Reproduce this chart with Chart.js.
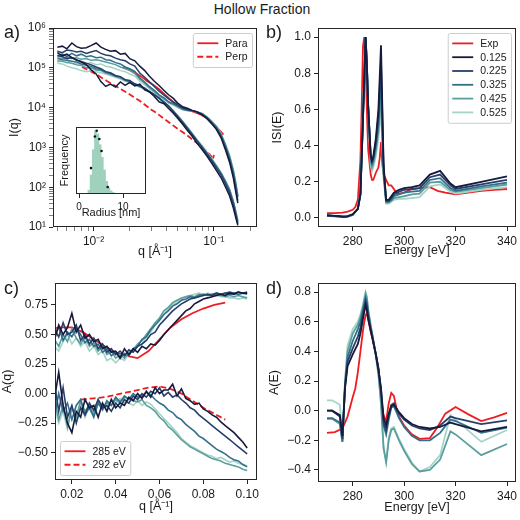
<!DOCTYPE html>
<html lang="en">
<head>
<meta charset="UTF-8">
<title>Hollow Fraction</title>
<script src="https://cdn.jsdelivr.net/npm/chart.js"></script>
<style>
  body { margin: 0; background: #fff; }
  #fig { position: relative; width: 520px; height: 520px; overflow: hidden;
         font-family: 'Liberation Sans', Arial, sans-serif; color: #1a1a1a; }
  #fig canvas { position: absolute; }
  .txt { position: absolute; line-height: 18px; white-space: nowrap; }
  .letter { font-size: 18px; }
</style>
</head>
<body>
<div id="fig">
  <canvas id="chartA" width="260" height="245" style="left:0;top:20px"></canvas>
  <canvas id="chartB" width="260" height="245" style="left:260px;top:20px"></canvas>
  <canvas id="chartC" width="264" height="245" style="left:-4px;top:275px"></canvas>
  <canvas id="chartD" width="260" height="245" style="left:260px;top:275px"></canvas>
  <canvas id="chartIn" width="93" height="100" style="left:57px;top:122px"></canvas>
  <div class="txt" style="left:4px;width:516px;top:0;text-align:center;font-size:14px">Hollow Fraction</div>
  <div class="txt letter" style="left:4px;top:23px">a)</div>
  <div class="txt letter" style="left:266px;top:23px">b)</div>
  <div class="txt letter" style="left:4px;top:279px">c)</div>
  <div class="txt letter" style="left:266px;top:279px">d)</div>
</div>
<script>
const FONT = "'Liberation Sans', Arial, sans-serif";

// ---- colours ----
const RED = '#ee1d23';
const fractions = ['0.125', '0.225', '0.325', '0.425', '0.525'];
const fracColors = ['#161a3c', '#283f6c', '#32708a', '#5a9e9e', '#a5d4c6'];

// ---- a) I(q) ----
const qa = [0.005, 0.0055, 0.006, 0.0066, 0.0072, 0.0079, 0.0087, 0.0095, 0.0105, 0.0115,
            0.0126, 0.0138, 0.0152, 0.0167, 0.0183, 0.02, 0.022, 0.0242, 0.0266, 0.029,
            0.032, 0.035, 0.0385, 0.042, 0.046, 0.05, 0.055, 0.06, 0.066, 0.072,
            0.08, 0.088, 0.096, 0.105, 0.115, 0.125, 0.135, 0.145, 0.152, 0.158];
const para0125 = [3.3e5, 3.5e5, 3.0e5, 4.2e5, 3.4e5, 3.1e5, 3.2e5, 3.6e5, 4.2e5, 3.3e5,
                  2.9e5, 2.6e5, 2.7e5, 2.2e5, 2.3e5, 1.7e5, 1.5e5, 1.1e5, 8.5e4, 6.2e4,
                  4.6e4, 3.6e4, 2.7e4, 2.1e4, 1.7e4, 1.3e4, 1.05e4, 9.6e3, 8.5e3, 7.8e3,
                  6.6e3, 5.2e3, 3.9e3, 2.8e3, 1.7e3, 850, 420, 170, 75, 40];
const para0225 = [2.6e5, 2.4e5, 2.8e5, 2.7e5, 2.5e5, 2.6e5, 2.3e5, 2.5e5, 2.7e5, 2.3e5,
                  2.1e5, 2.0e5, 1.75e5, 1.6e5, 1.5e5, 1.25e5, 1.1e5, 7.4e4, 5.8e4, 4.5e4,
                  3.4e4, 2.6e4, 2.05e4, 1.65e4, 1.4e4, 1.15e4, 9.8e3, 9.0e3, 8.4e3, 7.9e3,
                  6.8e3, 5.4e3, 4.1e3, 3.0e3, 1.85e3, 950, 480, 200, 90, 46];
const para0325 = [2.0e5, 2.2e5, 1.9e5, 2.3e5, 2.0e5, 2.2e5, 1.9e5, 2.0e5, 1.8e5, 1.85e5,
                  1.6e5, 1.55e5, 1.35e5, 1.25e5, 1.05e5, 9.5e4, 8.2e4, 5.6e4, 4.4e4, 3.4e4,
                  2.7e4, 2.1e4, 1.75e4, 1.4e4, 1.25e4, 1.1e4, 9.3e3, 8.6e3, 8.3e3, 7.8e3,
                  6.9e3, 5.6e3, 4.3e3, 3.2e3, 2.0e3, 1.07e3, 560, 240, 112, 56];
const para0425 = [1.8e5, 1.7e5, 1.85e5, 1.75e5, 1.8e5, 1.65e5, 1.7e5, 1.55e5, 1.6e5, 1.5e5,
                  1.4e5, 1.3e5, 1.2e5, 1.05e5, 9.5e4, 8.5e4, 7.2e4, 5.2e4, 4.1e4, 3.2e4,
                  2.5e4, 2.0e4, 1.65e4, 1.35e4, 1.2e4, 1.05e4, 9.0e3, 8.5e3, 8.2e3, 7.8e3,
                  7.0e3, 5.7e3, 4.4e3, 3.3e3, 2.1e3, 1.15e3, 600, 260, 125, 60];
const para0525 = [1.4e5, 1.5e5, 1.35e5, 1.55e5, 1.3e5, 1.4e5, 1.25e5, 1.35e5, 1.2e5, 1.25e5,
                  1.1e5, 1.05e5, 9.5e4, 8.5e4, 8.0e4, 7.0e4, 6.2e4, 4.6e4, 3.7e4, 3.0e4,
                  2.4e4, 1.95e4, 1.6e4, 1.3e4, 1.15e4, 1.0e4, 8.8e3, 8.4e3, 8.2e3, 7.9e3,
                  7.1e3, 5.9e3, 4.6e3, 3.4e3, 2.2e3, 1.2e3, 640, 280, 135, 62];
const perp0125 = [2.4e5, 2.0e5, 2.2e5, 1.8e5, 1.6e5, 1.4e5, 1.2e5, 9.0e4, 7.0e4, 4.5e4,
                  3.4e4, 3.9e4, 3.3e4, 4.4e4, 3.6e4, 4.3e4, 3.5e4, 3.9e4, 2.8e4, 2.5e4,
                  1.9e4, 1.4e4, 1.25e4, 9.5e3, 7.2e3, 5.4e3, 3.8e3, 2.7e3, 1.9e3, 1.3e3,
                  870, 590, 400, 260, 170, 100, 60, 30, 17, 11];
const perp0225 = [2.0e5, 1.9e5, 1.7e5, 1.8e5, 1.55e5, 1.45e5, 1.3e5, 1.2e5, 1.05e5, 9.5e4,
                  8.0e4, 7.5e4, 6.4e4, 6.0e4, 5.0e4, 4.8e4, 3.9e4, 3.6e4, 3.0e4, 2.6e4,
                  2.1e4, 1.75e4, 1.35e4, 1.1e4, 8.0e3, 6.0e3, 4.2e3, 3.0e3, 2.1e3, 1.5e3,
                  980, 670, 460, 300, 200, 120, 72, 36, 20, 12];
const perp0325 = [1.7e5, 1.6e5, 1.55e5, 1.45e5, 1.4e5, 1.25e5, 1.15e5, 1.1e5, 9.5e4, 9.0e4,
                  7.8e4, 7.2e4, 6.2e4, 5.8e4, 5.0e4, 4.5e4, 4.0e4, 3.4e4, 3.1e4, 2.5e4,
                  2.15e4, 1.7e4, 1.4e4, 1.1e4, 8.0e3, 6.0e3, 4.3e3, 3.1e3, 2.1e3, 1.5e3,
                  1.0e3, 700, 490, 330, 215, 135, 82, 42, 23, 13];
const perp0425 = [1.5e5, 1.45e5, 1.35e5, 1.3e5, 1.2e5, 1.15e5, 1.0e5, 1.0e5, 8.8e4, 8.5e4,
                  7.4e4, 6.8e4, 6.0e4, 5.5e4, 4.8e4, 4.4e4, 3.8e4, 3.4e4, 3.0e4, 2.5e4,
                  2.1e4, 1.7e4, 1.35e4, 1.1e4, 8.2e3, 6.2e3, 4.4e3, 3.2e3, 2.2e3, 1.55e3,
                  1.05e3, 720, 500, 340, 225, 140, 86, 44, 24, 14];
const perp0525 = [1.3e5, 1.25e5, 1.1e5, 1.0e5, 9.5e4, 8.5e4, 8.0e4, 8.5e4, 8.0e4, 7.5e4,
                  7.0e4, 6.4e4, 5.8e4, 5.2e4, 4.6e4, 4.2e4, 3.6e4, 3.3e4, 2.9e4, 2.5e4,
                  2.1e4, 1.7e4, 1.35e4, 1.1e4, 8.4e3, 6.4e3, 4.6e3, 3.3e3, 2.3e3, 1.6e3,
                  1.1e3, 750, 520, 350, 230, 145, 90, 46, 25, 15];
const qParaExp = [0.0175, 0.019, 0.021, 0.023, 0.025, 0.028, 0.031, 0.035, 0.04, 0.045,
                  0.05, 0.056, 0.063, 0.07, 0.078, 0.086, 0.094, 0.102, 0.11, 0.12];
const iParaExp = [1.05e5, 9.5e4, 8.2e4, 7.0e4, 6.0e4, 4.6e4, 3.8e4, 2.9e4, 2.0e4, 1.45e4,
                  1.15e4, 9.5e3, 8.5e3, 7.6e3, 6.6e3, 5.6e3, 4.5e3, 3.6e3, 2.8e3, 2.1e3];
const qPerpExp = [0.008, 0.009, 0.0102, 0.0115, 0.013, 0.0147, 0.0166, 0.0188, 0.0212, 0.024,
                  0.027, 0.03, 0.034, 0.038, 0.043, 0.048, 0.054, 0.06, 0.066, 0.073,
                  0.08, 0.087, 0.094, 0.098, 0.1];
const iPerpExp = [1.05e5, 8.8e4, 7.2e4, 5.8e4, 4.6e4, 3.7e4, 3.0e4, 2.4e4, 1.9e4, 1.5e4,
                  1.15e4, 9.0e3, 7.0e3, 5.4e3, 4.1e3, 3.2e3, 2.5e3, 2.0e3, 1.6e3, 1.25e3,
                  1.0e3, 800, 620, 500, 650];
const yTicksA = [10, 100, 1e3, 1e4, 1e5, 1e6];
const xTicksA = [0.01, 0.1];

// ---- inset: radius histogram ----
const radiusBins = [1.75, 2.25, 2.75, 3.25, 3.75, 4.25, 4.75, 5.25, 5.75, 6.25, 6.75, 7.25, 7.75, 8.25, 8.75];
const radiusFreq = [5, 60, 300, 700, 1000, 950, 780, 580, 380, 200, 100, 50, 25, 10, 4];
const fitRadius = [2.7, 3.6, 4.0, 4.6, 5.1, 6.5];
const fitFreq = [410, 910, 1000, 870, 680, 110];
const xTicksIn = [0, 10];

// ---- b) ISI(E) and d) A(E) ----
const energyModel = [270, 272, 275, 276, 277, 278, 280, 282, 283, 284,
                     285, 285.5, 286, 287, 287.5, 288, 289, 290, 291, 292,
                     293, 294, 295, 296, 298, 300, 303, 306, 310, 314,
                     318, 320, 330, 340];
const energyExp = [270, 273, 276, 278, 280, 281, 282, 283, 283.5, 284,
                   284.5, 285, 285.5, 286, 287, 287.5, 288, 289, 290, 290.5,
                   291, 291.5, 292, 293, 294, 295, 296, 297, 298, 300,
                   303, 306, 310, 313, 316, 320, 325, 330, 335, 340];
const isiExp = [0.026, 0.027, 0.03, 0.035, 0.045, 0.06, 0.1, 0.32, 0.62, 0.95,
                1.0, 0.85, 0.6, 0.38, 0.24, 0.21, 0.21, 0.25, 0.28, 0.33,
                0.42, 0.3, 0.24, 0.21, 0.18, 0.18, 0.16, 0.14, 0.135, 0.14,
                0.16, 0.165, 0.17, 0.15, 0.14, 0.13, 0.14, 0.15, 0.155, 0.16];
const isi0125 = [0.015, 0.013, 0.01, 0.008, 0.008, 0.01, 0.02, 0.05, 0.13, 0.55,
                 1.0, 0.85, 0.62, 0.35, 0.32, 0.34, 0.44, 0.6, 0.955, 0.3,
                 0.1, 0.1, 0.12, 0.14, 0.155, 0.165, 0.17, 0.18, 0.24, 0.26,
                 0.19, 0.17, 0.2, 0.23];
const isi0225 = [0.014, 0.012, 0.009, 0.007, 0.007, 0.009, 0.02, 0.05, 0.13, 0.55,
                 1.0, 0.85, 0.62, 0.34, 0.31, 0.33, 0.42, 0.56, 0.86, 0.28,
                 0.095, 0.095, 0.11, 0.13, 0.145, 0.155, 0.16, 0.165, 0.225, 0.24,
                 0.18, 0.16, 0.185, 0.21];
const isi0325 = [0.013, 0.011, 0.008, 0.006, 0.006, 0.008, 0.018, 0.05, 0.13, 0.56,
                 1.0, 0.85, 0.62, 0.33, 0.3, 0.32, 0.4, 0.52, 0.77, 0.26,
                 0.09, 0.09, 0.1, 0.12, 0.13, 0.14, 0.145, 0.15, 0.21, 0.22,
                 0.165, 0.15, 0.175, 0.195];
const isi0425 = [0.012, 0.01, 0.007, 0.005, 0.005, 0.007, 0.016, 0.05, 0.14, 0.57,
                 1.0, 0.86, 0.63, 0.31, 0.28, 0.3, 0.37, 0.48, 0.68, 0.24,
                 0.085, 0.085, 0.095, 0.11, 0.115, 0.12, 0.13, 0.135, 0.195, 0.2,
                 0.155, 0.145, 0.165, 0.185];
const isi0525 = [0.011, 0.009, 0.006, 0.004, 0.004, 0.006, 0.015, 0.05, 0.14, 0.58,
                 1.0, 0.86, 0.64, 0.29, 0.26, 0.28, 0.34, 0.44, 0.6, 0.22,
                 0.08, 0.08, 0.09, 0.1, 0.105, 0.105, 0.11, 0.115, 0.175, 0.185,
                 0.145, 0.135, 0.155, 0.17];

const aeExp = [-0.15, -0.145, -0.12, -0.04, 0.09, 0.15, 0.26, 0.4, 0.47, 0.54,
               0.6, 0.64, 0.66, 0.62, 0.53, 0.5, 0.46, 0.38, 0.29, 0.2,
               0.1, 0.02, -0.03, -0.07, 0.05, 0.12, 0.1, 0.02, -0.04, -0.1,
               -0.16, -0.19, -0.185, -0.11, -0.02, 0.025, -0.025, -0.07, -0.045, -0.015];
const ae0125 = [0.0, 0.0, -0.03, -0.17, 0.15, 0.3, 0.38, 0.45, 0.52, 0.62,
                0.71, 0.68, 0.62, 0.54, 0.5, 0.46, 0.38, 0.28, 0.15, -0.05,
                -0.1, -0.02, 0.03, 0.04, -0.01, -0.05, -0.09, -0.11, -0.12, -0.11,
                -0.08, -0.09, -0.14, -0.11];
const ae0225 = [0.0, 0.0, -0.04, -0.19, 0.16, 0.33, 0.42, 0.5, 0.56, 0.65,
                0.74, 0.71, 0.64, 0.55, 0.51, 0.47, 0.38, 0.28, 0.14, -0.08,
                -0.13, -0.03, 0.04, 0.05, -0.02, -0.06, -0.1, -0.12, -0.13, -0.1,
                -0.04, -0.05, -0.09, -0.065];
const ae0325 = [-0.05, -0.05, -0.08, -0.21, 0.17, 0.36, 0.47, 0.55, 0.6, 0.68,
                0.76, 0.73, 0.66, 0.56, 0.52, 0.47, 0.38, 0.27, 0.12, -0.1,
                -0.16, -0.06, 0.02, 0.03, -0.05, -0.11, -0.17, -0.2, -0.2, -0.15,
                -0.06, -0.07, -0.15, -0.115];
const ae0425 = [-0.055, -0.055, -0.09, -0.21, 0.19, 0.4, 0.52, 0.58, 0.63, 0.7,
                0.79, 0.76, 0.68, 0.57, 0.52, 0.47, 0.37, 0.25, 0.05, -0.25,
                -0.35, -0.2, -0.13, -0.12, -0.2, -0.27, -0.36, -0.41, -0.4, -0.33,
                -0.14, -0.16, -0.3, -0.225];
const ae0525 = [0.07, 0.07, 0.04, -0.19, 0.2, 0.44, 0.55, 0.6, 0.65, 0.72,
                0.8, 0.77, 0.69, 0.58, 0.53, 0.48, 0.37, 0.24, 0.04, -0.26,
                -0.34, -0.18, -0.12, -0.11, -0.19, -0.26, -0.35, -0.41, -0.38, -0.3,
                -0.03, -0.06, -0.21, -0.13];
const xTicksE = [280, 300, 320, 340];
const yTicksB = [0.0, 0.2, 0.4, 0.6, 0.8, 1.0];
const yTicksD = [-0.4, -0.2, 0.0, 0.2, 0.4, 0.6, 0.8];

// ---- c) A(q) ----
const qc = [0.010, 0.012, 0.014, 0.016, 0.018, 0.020, 0.022, 0.024, 0.026, 0.028,
            0.030, 0.032, 0.034, 0.036, 0.038, 0.040, 0.042, 0.044, 0.046, 0.048,
            0.050, 0.052, 0.054, 0.056, 0.058, 0.060, 0.062, 0.064, 0.066, 0.068,
            0.070, 0.072, 0.074, 0.076, 0.078, 0.080, 0.082, 0.084, 0.086, 0.088,
            0.090, 0.092, 0.094, 0.096, 0.098, 0.100];
const a285_0125 = [0.53, 0.45, 0.58, 0.5, 0.56, 0.68, 0.52, 0.58, 0.47, 0.5,
                   0.44, 0.46, 0.38, 0.4, 0.35, 0.36, 0.3, 0.38, 0.33, 0.38,
                   0.35, 0.4, 0.38, 0.42, 0.41, 0.45, 0.5, 0.54, 0.58, 0.62,
                   0.66, 0.7, 0.72, 0.76, 0.78, 0.8, 0.81, 0.82, 0.83, 0.84,
                   0.83, 0.85, 0.84, 0.86, 0.85, 0.85];
const a285_0225 = [0.45, 0.55, 0.48, 0.6, 0.5, 0.52, 0.58, 0.45, 0.5, 0.42,
                   0.47, 0.38, 0.42, 0.35, 0.38, 0.33, 0.36, 0.32, 0.37, 0.35,
                   0.4, 0.42, 0.45, 0.5, 0.52, 0.58, 0.62, 0.66, 0.7, 0.73,
                   0.76, 0.78, 0.8, 0.81, 0.82, 0.83, 0.84, 0.83, 0.85, 0.84,
                   0.85, 0.86, 0.85, 0.86, 0.85, 0.86];
const a285_0325 = [0.42, 0.5, 0.56, 0.45, 0.52, 0.48, 0.55, 0.5, 0.43, 0.46,
                   0.4, 0.42, 0.35, 0.38, 0.32, 0.35, 0.3, 0.34, 0.32, 0.38,
                   0.4, 0.46, 0.48, 0.54, 0.58, 0.62, 0.67, 0.7, 0.74, 0.76,
                   0.79, 0.8, 0.82, 0.81, 0.83, 0.84, 0.83, 0.84, 0.85, 0.84,
                   0.85, 0.84, 0.85, 0.84, 0.85, 0.84];
const a285_0425 = [0.38, 0.46, 0.4, 0.5, 0.44, 0.55, 0.47, 0.42, 0.48, 0.4,
                   0.43, 0.36, 0.4, 0.33, 0.36, 0.3, 0.33, 0.3, 0.35, 0.37,
                   0.42, 0.45, 0.5, 0.55, 0.6, 0.64, 0.7, 0.73, 0.77, 0.79,
                   0.81, 0.82, 0.83, 0.82, 0.84, 0.83, 0.84, 0.83, 0.84, 0.83,
                   0.82, 0.83, 0.82, 0.83, 0.82, 0.81];
const a285_0525 = [0.33, 0.4, 0.36, 0.44, 0.5, 0.42, 0.47, 0.4, 0.44, 0.36,
                   0.4, 0.33, 0.36, 0.28, 0.3, 0.26, 0.3, 0.28, 0.34, 0.36,
                   0.4, 0.42, 0.48, 0.52, 0.58, 0.62, 0.67, 0.72, 0.75, 0.78,
                   0.8, 0.82, 0.83, 0.84, 0.85, 0.84, 0.85, 0.84, 0.83, 0.82,
                   0.82, 0.81, 0.81, 0.8, 0.81, 0.8];
const a292_0125 = [0.04, -0.05, 0.18, -0.1, -0.25, -0.33, -0.15, -0.2, -0.05, -0.12,
                   -0.1, -0.2, -0.08, -0.15, -0.05, -0.12, -0.08, -0.1, -0.03, -0.06,
                   0.0, -0.04, 0.02, -0.03, 0.05, 0.0, 0.03, 0.03, 0.08, -0.02,
                   0.04, -0.04, -0.06, -0.09, -0.08, -0.13, -0.15, -0.18, -0.2, -0.24,
                   -0.27, -0.3, -0.33, -0.37, -0.41, -0.46];
const a292_0225 = [-0.05, 0.1, -0.15, 0.05, -0.2, -0.1, -0.25, -0.12, -0.18, -0.08,
                   -0.14, -0.05, -0.12, -0.1, -0.15, -0.08, -0.12, -0.05, -0.08, -0.02,
                   -0.05, 0.0, -0.03, 0.02, 0.0, 0.05, -0.02, 0.01, -0.03, -0.01,
                   -0.05, -0.08, -0.12, -0.14, -0.18, -0.21, -0.24, -0.27, -0.3, -0.33,
                   -0.36, -0.39, -0.42, -0.45, -0.48, -0.51];
const a292_0325 = [-0.1, -0.2, 0.0, -0.15, -0.08, -0.22, -0.1, -0.05, -0.18, -0.12,
                   -0.2, -0.08, -0.14, -0.06, -0.1, -0.03, -0.07, -0.02, -0.05, 0.0,
                   -0.03, -0.02, 0.01, -0.01, -0.05, -0.08, -0.1, -0.14, -0.16, -0.2,
                   -0.22, -0.26, -0.29, -0.32, -0.36, -0.38, -0.41, -0.44, -0.47, -0.49,
                   -0.51, -0.54, -0.56, -0.57, -0.6, -0.62];
const a292_0425 = [-0.15, -0.05, -0.22, -0.1, -0.28, -0.12, -0.2, -0.06, -0.15, -0.1,
                   -0.18, -0.05, -0.12, -0.08, -0.1, -0.05, -0.08, -0.03, -0.04, -0.06,
                   -0.07, -0.05, -0.1, -0.12, -0.15, -0.2, -0.23, -0.28, -0.31, -0.35,
                   -0.39, -0.42, -0.45, -0.47, -0.49, -0.51, -0.53, -0.55, -0.56, -0.57,
                   -0.59, -0.6, -0.61, -0.62, -0.64, -0.65];
const a292_0525 = [-0.2, -0.1, -0.25, -0.15, -0.3, -0.12, -0.22, -0.08, -0.2, -0.1,
                   -0.15, -0.06, -0.1, -0.12, -0.05, -0.08, -0.04, -0.08, -0.08, -0.1,
                   -0.06, -0.1, -0.07, -0.09, -0.13, -0.17, -0.21, -0.25, -0.29, -0.33,
                   -0.38, -0.41, -0.44, -0.46, -0.48, -0.5, -0.52, -0.53, -0.55, -0.54,
                   -0.56, -0.58, -0.57, -0.59, -0.6, -0.61];
const q285Exp = [0.01, 0.015, 0.02, 0.025, 0.03, 0.035, 0.04, 0.045, 0.05, 0.055,
                 0.06, 0.065, 0.07, 0.075, 0.08, 0.085, 0.09];
const a285Exp = [0.55, 0.56, 0.56, 0.52, 0.46, 0.4, 0.35, 0.32, 0.3, 0.36,
                 0.46, 0.56, 0.63, 0.68, 0.72, 0.75, 0.77];
const q292Exp = [0.024, 0.03, 0.035, 0.04, 0.045, 0.05, 0.055, 0.06, 0.065, 0.07,
                 0.075, 0.08, 0.085, 0.09];
const a292Exp = [-0.05, -0.04, -0.03, -0.01, 0.01, 0.03, 0.05, 0.06, 0.04, 0.0,
                 -0.06, -0.12, -0.17, -0.22];
const xTicksC = [0.02, 0.04, 0.06, 0.08, 0.10];
const yTicksC = [-0.5, -0.25, 0.0, 0.25, 0.5, 0.75];

// ---------- helpers ----------
const SUP = { '0': '\u2070', '1': '\u00b9', '2': '\u00b2', '3': '\u00b3', '4': '\u2074',
              '5': '\u2075', '6': '\u2076', '7': '\u2077', '8': '\u2078', '9': '\u2079', '-': '\u207b' };
const pow10Label = v => '10' + String(Math.round(Math.log10(v))).split('').map(ch => SUP[ch]).join('');
const minus = s => s.replace('-', '\u2212');
const fixed = n => v => minus(Number(v).toFixed(n));

function logMinors(min, max) {
  const out = [];
  [1e-3, 1e-2, 1e-1, 1, 10, 100, 1e3, 1e4, 1e5].forEach(d => {
    for (let k = 2; k <= 9; k++) {
      const v = k * d;
      if (v >= min && v <= max) out.push(v);
    }
  });
  return out;
}

function tickList(major, minor) {
  const t = major.map(v => ({ value: v, major: true }));
  (minor || []).forEach(v => t.push({ value: v, major: false }));
  return t.sort((p, q) => p.value - q.value);
}

function axis(o) {
  const horiz = o.position === 'bottom';
  return {
    type: o.type || 'linear',
    position: o.position,
    offset: false,
    min: o.min, max: o.max,
    afterBuildTicks: s => { s.ticks = tickList(o.major, o.minor); },
    afterFit: s => {
      if (horiz) { s.height = o.size; s.paddingLeft = 0; s.paddingRight = 0; }
      else { s.width = o.size; s.paddingTop = 0; s.paddingBottom = 0; }
    },
    border: { display: false },
    grid: {
      display: true, offset: false, drawOnChartArea: false, drawTicks: true, tickLength: 4,
      tickColor: '#262626',
      tickWidth: c => (c.tick && c.tick.major === false) ? 0.6 : 1
    },
    ticks: {
      autoSkip: false, maxRotation: 0, padding: 3, color: '#1a1a1a',
      font: { family: FONT, size: o.fs || 12 },
      callback: (v, i, ts) => (ts[i] && ts[i].major === false) ? '' : o.fmt(v)
    },
    title: {
      display: !!o.title, text: o.title, color: '#1a1a1a',
      font: { family: FONT, size: o.tfs || 12.5 },
      padding: horiz ? { top: 0, bottom: o.tpad } : { top: o.tpad, bottom: 0 }
    }
  };
}

function ds(label, xs, ys, color, opt) {
  opt = opt || {};
  return {
    label: label,
    data: xs.map((x, i) => ({ x: x, y: ys[i] })),
    borderColor: color, backgroundColor: color,
    borderWidth: opt.w || 1.8, borderDash: opt.dash || [],
    pointRadius: 0, tension: 0, fill: false,
    order: opt.order || 0, legend: !!opt.legend
  };
}

// white plot background (inset) and a four-sided box like matplotlib
const framePlugin = {
  id: 'frame',
  beforeDraw(chart, args, opts) {
    if (!opts.fill) return;
    const a = chart.chartArea, c = chart.ctx;
    c.save(); c.fillStyle = opts.fill;
    c.fillRect(a.left, a.top, a.right - a.left, a.bottom - a.top);
    c.restore();
  },
  afterDraw(chart) {
    const a = chart.chartArea, c = chart.ctx;
    c.save(); c.strokeStyle = '#262626'; c.lineWidth = 1;
    c.strokeRect(Math.round(a.left) + 0.5, Math.round(a.top) + 0.5,
                 Math.round(a.right - a.left) - 1, Math.round(a.bottom - a.top) - 1);
    c.restore();
  }
};

// legend box drawn inside the plot area
const boxLegend = {
  id: 'boxLegend',
  afterDatasetsDraw(chart, args, opts) {
    if (!opts.corner) return;
    const items = chart.data.datasets.filter(d => d.legend);
    const c = chart.ctx, a = chart.chartArea;
    c.save();
    c.font = opts.size + 'px ' + FONT;
    const tw = Math.max.apply(null, items.map(d => c.measureText(d.label).width));
    const pad = 3.5, hl = 21, gap = 7, row = opts.row;
    const w = pad * 2 + hl + gap + tw + 2, h = pad * 2 + row * items.length;
    const x = opts.corner === 'ur' ? a.right - 5 - w : a.left + 5;
    const y = opts.corner === 'ur' ? a.top + 5 : a.bottom - 5 - h;
    c.beginPath();
    if (c.roundRect) c.roundRect(x + 0.5, y + 0.5, w, h, 2); else c.rect(x + 0.5, y + 0.5, w, h);
    c.fillStyle = 'rgba(255,255,255,0.8)'; c.fill();
    c.strokeStyle = '#cccccc'; c.lineWidth = 1; c.stroke();
    items.forEach((d, i) => {
      const cy = y + pad + row * i + row / 2;
      c.strokeStyle = d.borderColor; c.lineWidth = d.borderWidth;
      c.setLineDash(d.borderDash || []);
      c.beginPath(); c.moveTo(x + pad + 1, cy); c.lineTo(x + pad + 1 + hl, cy); c.stroke();
      c.setLineDash([]);
      c.fillStyle = '#1a1a1a'; c.textBaseline = 'middle';
      c.fillText(d.label, x + pad + 1 + hl + gap, cy + 0.5);
    });
    c.restore();
  }
};

function panel(id, datasets, xAxis, yAxis, pad, legendOpts, frameOpts, type) {
  return new Chart(document.getElementById(id), {
    type: type || 'line',
    data: { datasets: datasets },
    options: {
      responsive: false, animation: false, events: [],
      layout: { padding: pad },
      plugins: { legend: { display: false }, tooltip: { enabled: false },
                 boxLegend: legendOpts || {}, frame: frameOpts || {} },
      scales: { x: xAxis, y: yAxis }
    },
    plugins: [framePlugin, boxLegend]
  });
}

// ---------- a) ----------
const paraA = [para0125, para0225, para0325, para0425, para0525];
const perpA = [perp0125, perp0225, perp0325, perp0425, perp0525];
const dsA = [
  ds('Para', qParaExp, iParaExp, RED, { order: 1, legend: true, w: 1.8 }),
  ds('Perp', qPerpExp, iPerpExp, RED, { order: 1, legend: true, w: 1.8, dash: [6, 3] })
];
fractions.forEach((f, i) => {
  dsA.push(ds(f, qa, paraA[i], fracColors[i], { w: 1.5 }));
  dsA.push(ds(f, qa, perpA[i], fracColors[i], { w: 1.5 }));
});
panel('chartA', dsA,
  axis({ type: 'logarithmic', position: 'bottom', min: 0.0046, max: 0.228, major: xTicksA,
         minor: logMinors(0.0046, 0.228), fmt: pow10Label, title: 'q [\u00c5\u207b\u00b9]', size: 38, tpad: 5.5 }),
  axis({ type: 'logarithmic', position: 'left', min: 10, max: 1e6, major: yTicksA,
         minor: logMinors(10, 1e6), fmt: pow10Label, title: 'I(q)', size: 53, tpad: 7.5 }),
  { top: 8, right: 3, left: 0, bottom: 0 },
  { corner: 'ur', size: 10.5, row: 13.5 });

// ---------- inset ----------
panel('chartIn', [
    { type: 'scatter', data: fitRadius.map((r, i) => ({ x: r, y: fitFreq[i] })),
      backgroundColor: '#111', borderWidth: 0, pointRadius: 1.3, showLine: false, order: 0 },
    { type: 'bar', data: radiusBins.map((r, i) => ({ x: r, y: radiusFreq[i] })),
      backgroundColor: '#9fd1bd', borderWidth: 0, barPercentage: 1, categoryPercentage: 1, order: 1 }
  ],
  axis({ position: 'bottom', min: -0.7, max: 15.2, major: xTicksIn, fmt: v => String(v),
         title: 'Radius [nm]', size: 28, tpad: 2, fs: 10, tfs: 11 }),
  axis({ position: 'left', min: 0, max: 1060, major: [], fmt: v => '', title: 'Frequency',
         size: 19, tpad: 1.5, tfs: 11 }),
  { top: 5, right: 4, left: 0, bottom: 0 }, null, { fill: '#ffffff' }, 'bar');

// ---------- b) ----------
const isiModels = [isi0125, isi0225, isi0325, isi0425, isi0525];
const dsB = [ds('Exp', energyExp, isiExp, RED, { order: 1, legend: true })];
fractions.forEach((f, i) => dsB.push(ds(f, energyModel, isiModels[i], fracColors[i], { legend: true })));
panel('chartB', dsB,
  axis({ position: 'bottom', min: 266.5, max: 343.5, major: xTicksE, fmt: v => String(v),
         title: 'Energy [eV]', size: 38, tpad: 6.5 }),
  axis({ position: 'left', min: -0.05, max: 1.05, major: yTicksB, fmt: fixed(1),
         title: 'ISI(E)', size: 52, tpad: 4.5 }),
  { top: 8, right: 4, left: 6, bottom: 0 },
  { corner: 'ur', size: 10.5, row: 13.8 });

// ---------- c) ----------
const a285Models = [a285_0125, a285_0225, a285_0325, a285_0425, a285_0525];
const a292Models = [a292_0125, a292_0225, a292_0325, a292_0425, a292_0525];
const dsC = [
  ds('285 eV', q285Exp, a285Exp, RED, { order: 1, legend: true }),
  ds('292 eV', q292Exp, a292Exp, RED, { order: 1, legend: true, dash: [6, 3] })
];
fractions.forEach((f, i) => {
  dsC.push(ds(f, qc, a285Models[i], fracColors[i], { w: 1.6 }));
  dsC.push(ds(f, qc, a292Models[i], fracColors[i], { w: 1.6 }));
});
panel('chartC', dsC,
  axis({ position: 'bottom', min: 0.0123, max: 0.1045, major: xTicksC, fmt: fixed(2),
         title: 'q [\u00c5\u207b\u00b9]', size: 40, tpad: 5.5 }),
  axis({ position: 'left', min: -0.731, max: 0.936, major: yTicksC, fmt: fixed(2),
         title: 'A(q)', size: 59, tpad: 4.5 }),
  { top: 8, right: 3, left: 0, bottom: 0 },
  { corner: 'll', size: 10.5, row: 13.5 });

// ---------- d) ----------
const aeModels = [ae0125, ae0225, ae0325, ae0425, ae0525];
const dsD = [ds('Exp', energyExp, aeExp, RED, { order: 1 })];
fractions.forEach((f, i) => dsD.push(ds(f, energyModel, aeModels[i], fracColors[i])));
panel('chartD', dsD,
  axis({ position: 'bottom', min: 266.5, max: 343.5, major: xTicksE, fmt: v => String(v),
         title: 'Energy [eV]', size: 38, tpad: 5 }),
  axis({ position: 'left', min: -0.481, max: 0.861, major: yTicksD, fmt: fixed(1),
         title: 'A(E)', size: 52, tpad: 1.5 }),
  { top: 8, right: 4, left: 6, bottom: 0 });
</script>
</body>
</html>
